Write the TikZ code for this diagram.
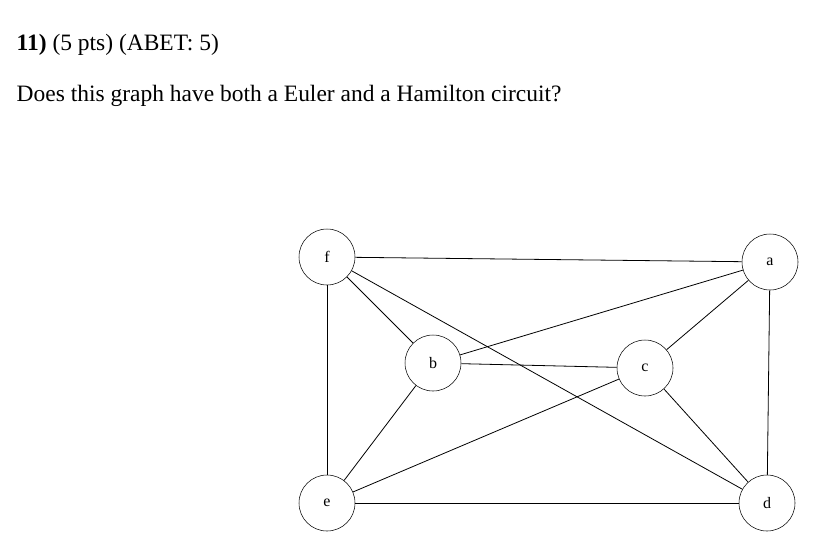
\documentclass[tikz,border=0pt]{standalone}
\usepackage{fontspec}
\setmainfont{Liberation Serif}
\tikzset{>=stealth}

\begin{document}
\begin{tikzpicture}[x=0.75pt, y=-0.75pt,
    vertex/.style={draw, circle, minimum size=42pt, inner sep=0pt, font=\fontsize{12}{14}\selectfont},
    prose/.style={anchor=west, font=\fontsize{17.6}{20}\selectfont},
    edge/.style={draw, line width=0.6pt}]
    \useasboundingbox (0,0) rectangle (831,558);
    % question text
    \node[prose] (title) at (12,45) {\textbf{11)} (5 pts) (ABET: 5)};
    \node[prose] (question) at (12,96) {Does this graph have both a Euler and a Hamilton circuit?};
    % vertices
    \node[vertex] (f) at (327,257) {f};
    \node[vertex] (a) at (770,262) {a};
    \node[vertex] (b) at (433,363) {b};
    \node[vertex] (c) at (645,368) {c};
    \node[vertex] (e) at (327,503) {e};
    \node[vertex] (d) at (767,503) {d};
    % edges
    \foreach \u/\v in {f/a, f/e, f/b, f/d, a/b, a/c, a/d, b/c, b/e, c/e, c/d, e/d}
        \draw[edge] (\u) -- (\v);
\end{tikzpicture}
\end{document}
